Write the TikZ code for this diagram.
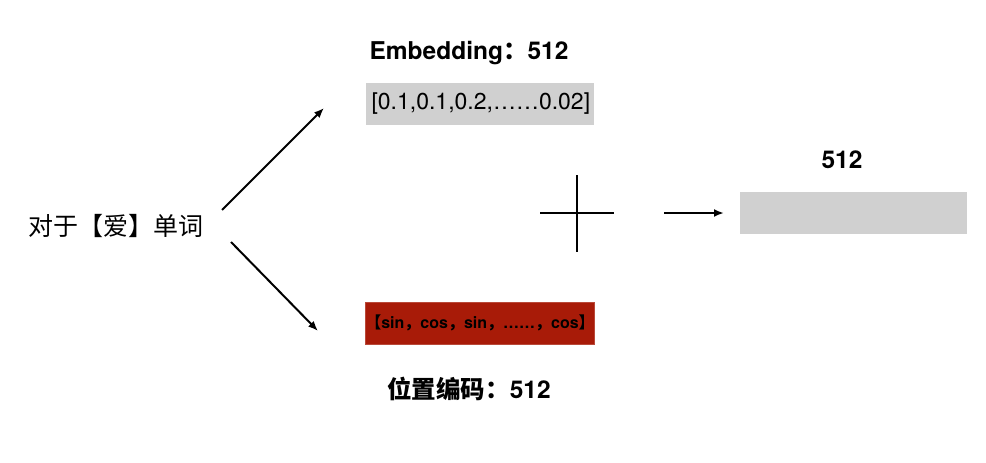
\documentclass[tikz,border=0pt]{standalone}
\usepackage{fontspec}
\setmainfont{TeX Gyre Heros}
\newfontfamily\cjk{Noto Sans CJK SC}
\usetikzlibrary{arrows.meta}
\definecolor{boxgray}{HTML}{D0D0D0}
\definecolor{boxred}{HTML}{A81B08}
\newcommand{\zh}[1]{{\cjk #1}}
\tikzset{
  arr/.style={line width=2pt, -{Latex[length=10pt,width=8pt]}},
  vecbox/.style={minimum width=228pt, minimum height=42pt, inner sep=0pt},
  lbl/.style={font=\fontsize{24.5}{28}\selectfont\bfseries}
}
\begin{document}
\begin{tikzpicture}[x=1pt,y=-1pt]
    \useasboundingbox (0,0) rectangle (986,463);

    \node[font=\fontsize{25}{29}\selectfont\cjk] (word) at (116,226) {对于【爱】单词};

    \node[lbl] (emblbl) at (469,53) {Embedding\zh{：}512};
    \node[vecbox, fill=boxgray] (emb) at (480,104) {};
    \node[anchor=west, font=\fontsize{23}{27}\selectfont] (embtxt) at (368,104) {[0.1,0.1,0.2,……0.02]};

    \node[vecbox, fill=boxred, draw=boxred!80!white, line width=0.6pt] (pos) at (480,323)
      {\fontsize{16}{19}\selectfont\bfseries\zh{【}sin\zh{，}cos\zh{，}sin\zh{，}……\zh{，}cos\zh{】}};
    \node[lbl] (poslbl) at (469,389) {\zh{位置编码：}512};

    % plus sign
    \coordinate (pl) at (540,213);
    \coordinate (pr) at (614,213);
    \coordinate (pt) at (577,175);
    \coordinate (pb) at (577,252);
    \draw[line width=2pt] (pl) -- (pr);
    \draw[line width=2pt] (pt) -- (pb);

    \node[vecbox, fill=boxgray, minimum width=227pt] (out) at (853.5,213) {};
    \node[lbl] (outlbl) at (842,160) {512};

    % arrows
    \coordinate (up0) at (222,210);
    \coordinate (up1) at (324,108);
    \coordinate (dn0) at (231,242);
    \coordinate (dn1) at (318,331);
    \coordinate (r0) at (664,213);
    \coordinate (r1) at (724,213);
    \draw[arr] (up0) -- (up1);
    \draw[arr] (dn0) -- (dn1);
    \draw[arr] (r0) -- (r1);
  \end{tikzpicture}
\end{document}
